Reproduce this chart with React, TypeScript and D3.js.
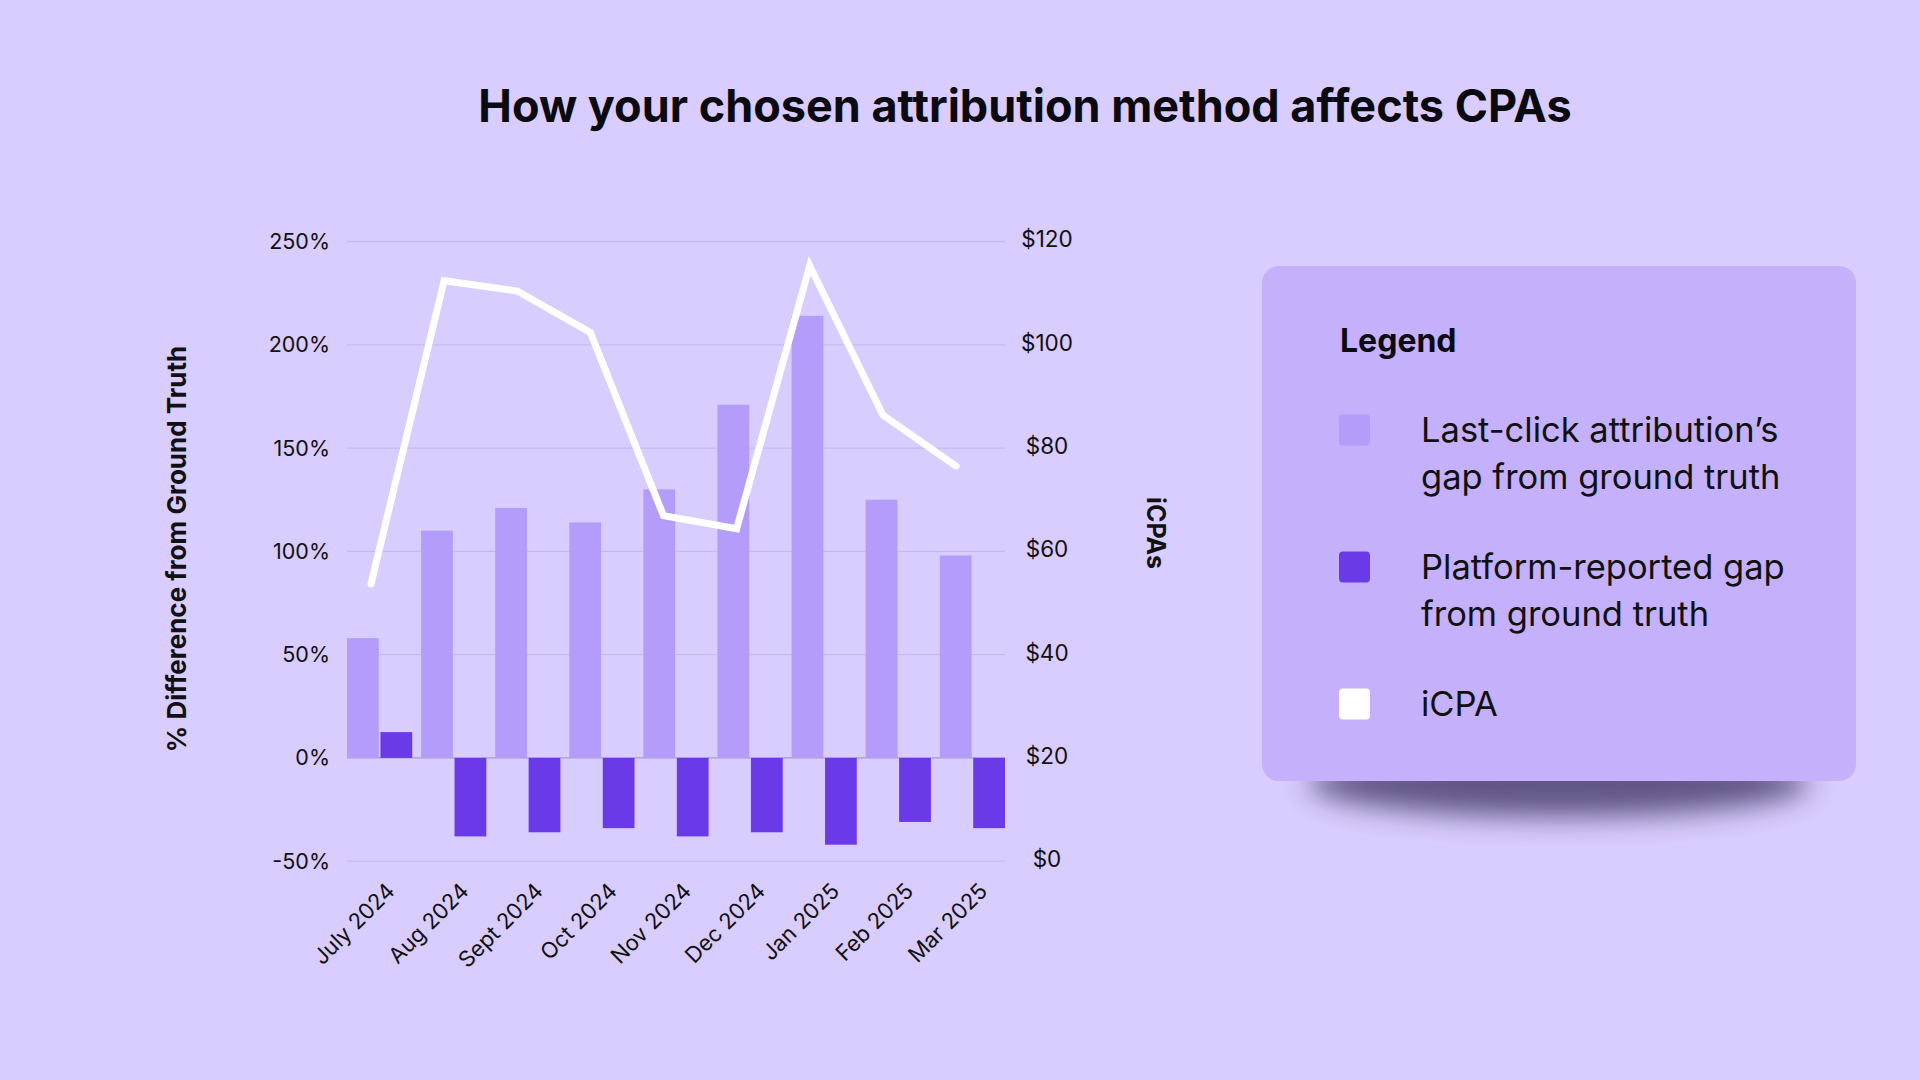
import * as d3 from "d3";

// monthly values
const months = [
  "July 2024",
  "Aug 2024",
  "Sept 2024",
  "Oct 2024",
  "Nov 2024",
  "Dec 2024",
  "Jan 2025",
  "Feb 2025",
  "Mar 2025",
];
const lastClickGap = [58, 110, 121, 114, 130, 171, 214, 125, 98];
const platformGap = [12.5, -38, -36, -34, -38, -36, -42, -31, -34];
const icpa = [53.7, 112.4, 110.4, 102.4, 66.9, 64.4, 115.3, 86.4, 76.5];

const pctTicks = [-50, 0, 50, 100, 150, 200, 250];
const dollarTicks = [0, 20, 40, 60, 80, 100, 120];

const legendItems = [
  { color: "#b39cfa", lines: ["Last-click attribution’s", "gap from ground truth"] },
  { color: "#6a3ae8", lines: ["Platform-reported gap", "from ground truth"] },
  { color: "#ffffff", lines: ["iCPA"] },
];

const BG = "#d9ccfe";
const LIGHT = "#b39cfa";
const DARK = "#6a3ae8";
const FONT = "Inter, 'Noto Sans', sans-serif";

export default function App() {
  const width = 1920;
  const height = 1080;

  const plotLeft = 347;
  const plotRight = 1005;
  const plotTop = 241.5;
  const plotBottom = 861.2;

  const x = d3
    .scaleBand<string>()
    .domain(months)
    .range([plotLeft, plotRight])
    .paddingInner(0.12)
    .paddingOuter(0);

  const sub = d3
    .scaleBand<string>()
    .domain(["last", "platform"])
    .range([0, x.bandwidth()])
    .paddingInner(0.05);

  const yPct = d3.scaleLinear().domain([-50, 250]).range([plotBottom, plotTop]);
  const yUsd = d3.scaleLinear().domain([0, 120]).range([plotBottom, plotTop]);

  const xLine = d3.scalePoint<string>().domain(months).range([371, 956]);

  const line = d3
    .line<number>()
    .x((_, i) => xLine(months[i]) as number)
    .y((d) => yUsd(d));

  const legendX = 1262;
  const legendY = 266;
  const legendW = 594;
  const legendH = 515;

  return (
    <div style={{ position: "absolute", left: 0, top: 0 }}>
      <svg width={width} height={height} style={{ display: "block", background: BG }}>
        <defs>
          <filter id="shadowBlur" x="-50%" y="-200%" width="200%" height="500%">
            <feGaussianBlur stdDeviation="14" />
          </filter>
        </defs>
        <rect x={0} y={0} width={width} height={height} fill={BG} />

        <text
          x={1025}
          y={122}
          textAnchor="middle"
          fontFamily={FONT}
          fontWeight={700}
          fontSize={45}
          fill="#0b0a10"
        >
          How your chosen attribution method affects CPAs
        </text>

        {/* gridlines */}
        {pctTicks.map((t) => (
          <line
            key={`g-${t}`}
            x1={plotLeft}
            x2={plotRight}
            y1={yPct(t)}
            y2={yPct(t)}
            stroke={t === 0 ? "#a79cc8" : "#c7b9f0"}
            strokeWidth={1.3}
          />
        ))}

        {/* left axis labels */}
        {pctTicks.map((t) => (
          <text
            key={`l-${t}`}
            x={330}
            y={yPct(t)}
            dy="0.35em"
            textAnchor="end"
            fontFamily={FONT}
            fontSize={21.5}
            fill="#111"
          >
            {`${t}%`}
          </text>
        ))}

        {/* right axis labels */}
        {dollarTicks.map((t) => (
          <text
            key={`r-${t}`}
            x={1047}
            y={yUsd(t) - 2}
            dy="0.35em"
            textAnchor="middle"
            fontFamily={FONT}
            fontSize={22.5}
            fill="#111"
          >
            {`$${t}`}
          </text>
        ))}

        {/* bars */}
        {months.map((m, i) => {
          const x0 = x(m) as number;
          const a = lastClickGap[i];
          const b = platformGap[i];
          return (
            <g key={m}>
              <rect
                x={x0 + (sub("last") as number)}
                y={yPct(Math.max(0, a))}
                width={sub.bandwidth()}
                height={Math.abs(yPct(a) - yPct(0))}
                fill={LIGHT}
              />
              <rect
                x={x0 + (sub("platform") as number)}
                y={yPct(Math.max(0, b))}
                width={sub.bandwidth()}
                height={Math.abs(yPct(b) - yPct(0))}
                fill={DARK}
              />
            </g>
          );
        })}

        {/* iCPA line */}
        <path
          d={line(icpa) ?? ""}
          fill="none"
          stroke="#ffffff"
          strokeWidth={7}
          strokeLinecap="round"
          strokeLinejoin="miter"
        />

        {/* x labels */}
        {months.map((m) => {
          const cx = (x(m) as number) + x.bandwidth() / 2 + 11;
          const cy = 887;
          return (
            <text
              key={`x-${m}`}
              x={cx}
              y={cy}
              dy="0.35em"
              textAnchor="end"
              transform={`rotate(-45, ${cx}, ${cy})`}
              fontFamily={FONT}
              fontSize={22}
              fill="#111"
            >
              {m}
            </text>
          );
        })}

        {/* axis titles */}
        <text
          transform="translate(186, 549) rotate(-90)"
          textAnchor="middle"
          fontFamily={FONT}
          fontWeight={700}
          fontSize={26}
          fill="#111"
        >
          % Difference from Ground Truth
        </text>
        <text
          transform="translate(1147, 533) rotate(90)"
          textAnchor="middle"
          fontFamily={FONT}
          fontWeight={700}
          fontSize={25}
          fill="#111"
        >
          iCPAs
        </text>

        {/* legend */}
        <ellipse
          cx={legendX + legendW / 2}
          cy={legendY + legendH + 2}
          rx={250}
          ry={34}
          fill="#3b2f5e"
          opacity={0.75}
          filter="url(#shadowBlur)"
        />
        <rect
          x={legendX}
          y={legendY}
          width={legendW}
          height={legendH}
          rx={17}
          fill="#c4b0fb"
        />
        <text
          x={1340}
          y={352}
          fontFamily={FONT}
          fontWeight={700}
          fontSize={32}
          fill="#0b0a10"
        >
          Legend
        </text>
        {legendItems.map((item, i) => {
          const sy = 414.6 + i * 137;
          return (
            <g key={item.lines[0]}>
              <rect x={1339} y={sy} width={31} height={31} rx={4} fill={item.color} />
              {item.lines.map((ln, j) => (
                <text
                  key={ln}
                  x={1421}
                  y={sy + 27 + j * 47}
                  fontFamily={FONT}
                  fontSize={34.5}
                  fill="#111"
                >
                  {ln}
                </text>
              ))}
            </g>
          );
        })}
      </svg>
    </div>
  );
}
